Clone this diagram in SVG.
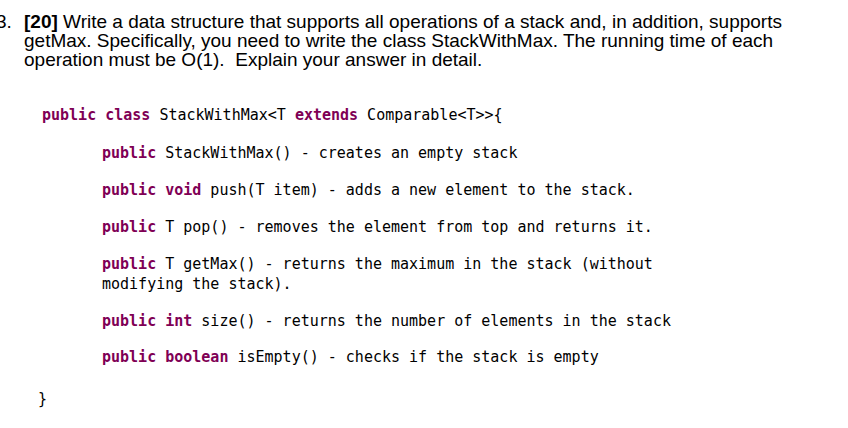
<svg xmlns="http://www.w3.org/2000/svg" width="848" height="428" viewBox="0 0 848 428">
<style>
.h{font-family:"Liberation Sans",Arial,sans-serif;font-size:19px;fill:#000}
.c{font-family:"DejaVu Sans Mono",monospace;font-size:15px;fill:#000}
.k{fill:#7f0055;font-weight:bold}
</style>
<rect width="848" height="428" fill="#fff"/>
<text class="h" x="-4" y="28">3.</text>
<text class="h" x="24" y="28"><tspan font-weight="bold">[20]</tspan> Write a data structure that supports all operations of a stack and, in addition, supports</text>
<text class="h" x="24" y="47">getMax. Specifically, you need to write the class StackWithMax. The running time of each</text>
<text class="h" x="24" y="66">operation must be O(1).&#160; Explain your answer in detail.</text>
<text class="c" x="42" y="120"><tspan class="k">public class</tspan> StackWithMax&lt;T <tspan class="k">extends</tspan> Comparable&lt;T&gt;&gt;{</text>
<text class="c" x="102" y="158"><tspan class="k">public</tspan> StackWithMax() - creates an empty stack</text>
<text class="c" x="102" y="195"><tspan class="k">public void</tspan> push(T item) - adds a new element to the stack.</text>
<text class="c" x="102" y="232"><tspan class="k">public</tspan> T pop() - removes the element from top and returns it.</text>
<text class="c" x="102" y="269"><tspan class="k">public</tspan> T getMax() - returns the maximum in the stack (without</text>
<text class="c" x="102" y="289">modifying the stack).</text>
<text class="c" x="102" y="326"><tspan class="k">public int</tspan> size() - returns the number of elements in the stack</text>
<text class="c" x="102" y="362"><tspan class="k">public boolean</tspan> isEmpty() - checks if the stack is empty</text>
<text class="c" x="38" y="404">}</text>
</svg>
